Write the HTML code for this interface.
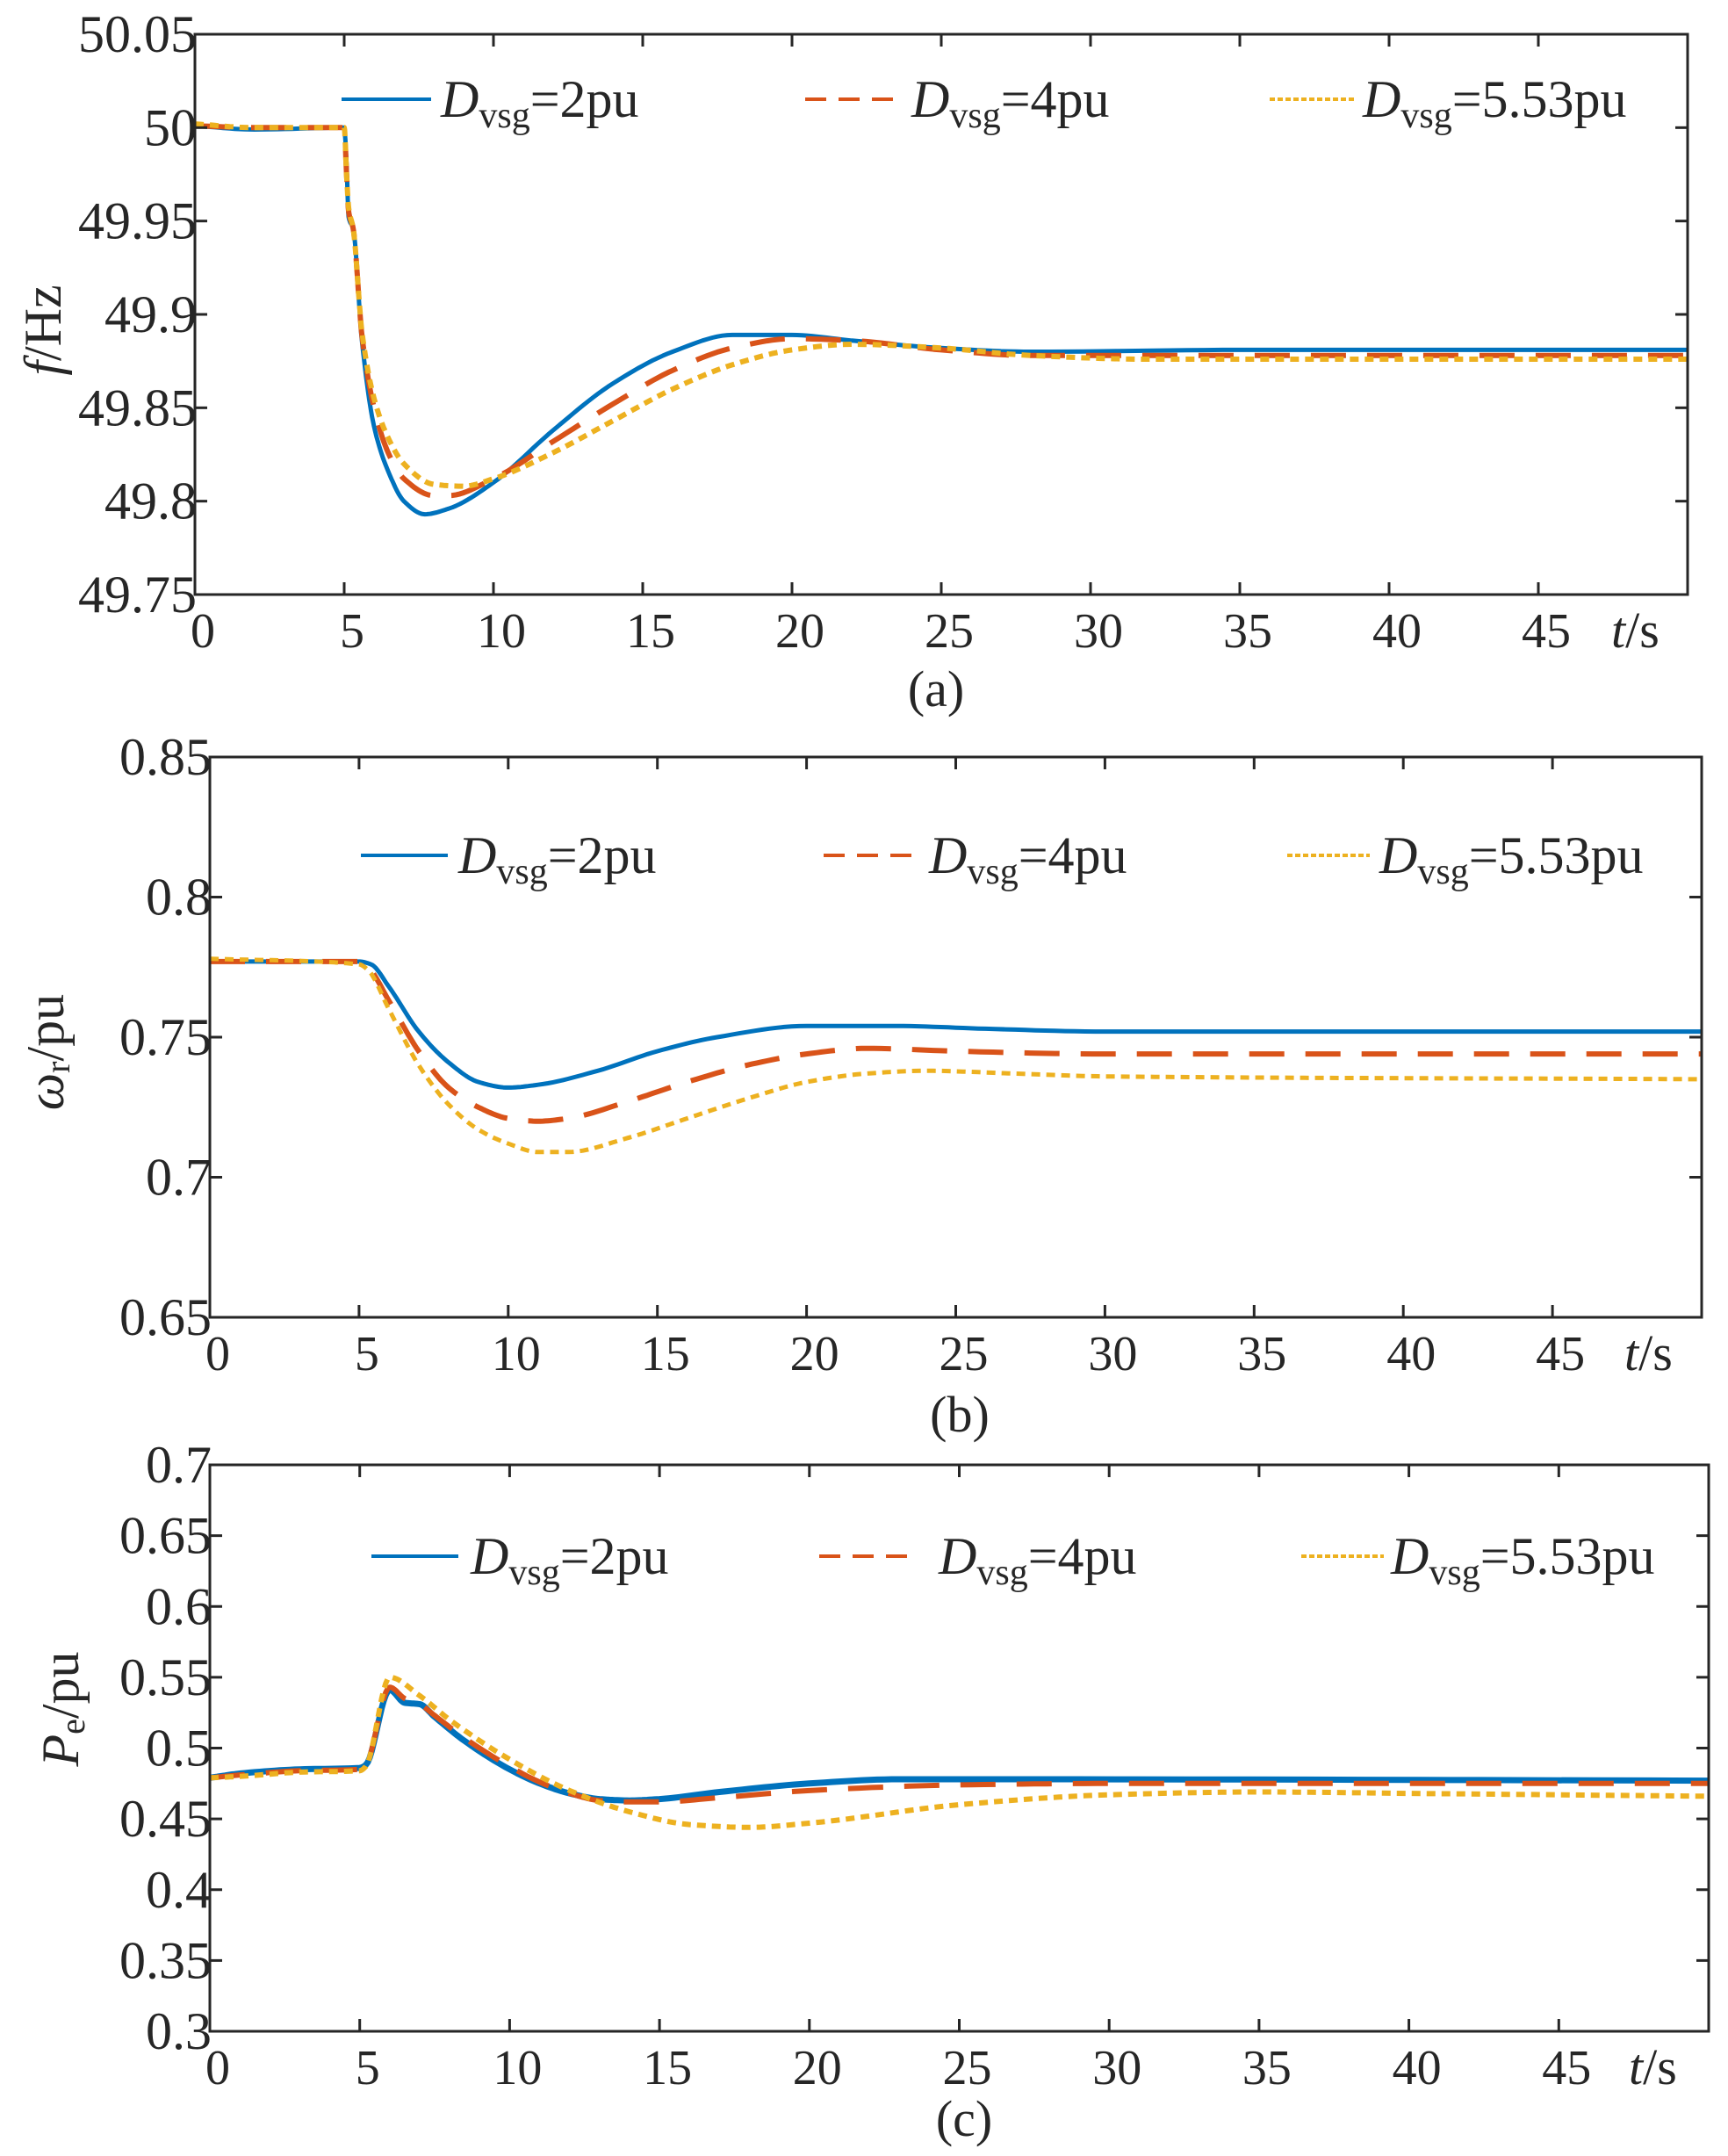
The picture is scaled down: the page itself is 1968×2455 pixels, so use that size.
<!DOCTYPE html>
<html><head><meta charset="utf-8">
<style>
html,body{margin:0;padding:0;background:#fff;}
svg{display:block;}
text{font-family:"Liberation Serif","DejaVu Serif",serif;fill:#262626;}
</style></head>
<body>
<svg id="s" width="1968" height="2455" viewBox="0 0 1968 2455" xmlns="http://www.w3.org/2000/svg">
<rect width="1968" height="2455" fill="#fff"/>
<text x="55" y="376" font-size="60" text-anchor="middle" dominant-baseline="middle" transform="rotate(-90 55 376)"><tspan font-style="italic">f</tspan>/Hz</text>
<text x="58" y="1198" font-size="60" text-anchor="middle" dominant-baseline="middle" transform="rotate(-90 58 1198)"><tspan font-style="italic">ω</tspan><tspan font-size="40" dy="12">r</tspan><tspan dy="-12">/pu</tspan></text>
<text x="75" y="1946" font-size="60" text-anchor="middle" dominant-baseline="middle" transform="rotate(-90 75 1946)"><tspan font-style="italic">P</tspan><tspan font-size="40" dy="12">e</tspan><tspan dy="-12">/pu</tspan></text>
<text x="1066" y="804" font-size="58" text-anchor="middle">(a)</text>
<text x="1093" y="1630" font-size="58" text-anchor="middle">(b)</text>
<text x="1098" y="2432" font-size="58" text-anchor="middle">(c)</text>
</svg>
<script>
var S=document.getElementById('s'),NS='http://www.w3.org/2000/svg';
function el(n,a,t){var e=document.createElementNS(NS,n);for(var k in a)e.setAttribute(k,a[k]);if(t!==undefined)e.textContent=t;S.appendChild(e);return e;}
var C=['#0072BD','#D95319','#EDB120'];
var DASH=['none','40 24','10 7'];
function pchip(pts){var n=pts.length,h=[],d=[],m=[];
for(var i=0;i<n-1;i++){h[i]=pts[i+1][0]-pts[i][0];d[i]=(pts[i+1][1]-pts[i][1])/h[i];}
m[0]=d[0];m[n-1]=d[n-2];
for(i=1;i<n-1;i++){if(d[i-1]*d[i]<=0)m[i]=0;else{var w1=2*h[i]+h[i-1],w2=h[i]+2*h[i-1];m[i]=(w1+w2)/(w1/d[i-1]+w2/d[i]);}}
var o=[];for(i=0;i<n-1;i++){for(var k=0;k<12;k++){var t=k/12,t2=t*t,t3=t2*t;
var y=(2*t3-3*t2+1)*pts[i][1]+(t3-2*t2+t)*h[i]*m[i]+(-2*t3+3*t2)*pts[i+1][1]+(t3-t2)*h[i]*m[i+1];
o.push([pts[i][0]+t*h[i],y]);}}o.push(pts[n-1]);return o;}
function plot(P){
var L=P.l,R=P.r,T=P.t,B=P.b;
function X(v){return L+(R-L)*v/50;}function Y(v){return B-(B-T)*(v-P.y0)/(P.y1-P.y0);}
P.series.forEach(function(d,i){var pts=pchip(d).map(function(p){return [X(p[0]),Y(p[1])];});
el('polyline',{points:pts.map(function(p){return p[0].toFixed(1)+','+p[1].toFixed(1);}).join(' '),fill:'none',stroke:C[i],'stroke-width':P.w[i],'stroke-dasharray':DASH[i],'stroke-linejoin':'round'});});
el('rect',{x:L,y:T,width:R-L,height:B-T,fill:'none',stroke:'#262626','stroke-width':3});
for(var v=0;v<=45;v+=5){var x=X(v);
if(v>0){el('line',{x1:x,y1:B,x2:x,y2:B-14,stroke:'#262626','stroke-width':3});el('line',{x1:x,y1:T,x2:x,y2:T+14,stroke:'#262626','stroke-width':3});}
el('text',{x:x+9,y:B+60,'font-size':56,'text-anchor':'middle'},String(v));}
el('text',{x:P.tx,y:B+60,'font-size':58},'').innerHTML='<tspan font-style="italic">t</tspan>/s';
P.yt.forEach(function(s){var v=parseFloat(s),y=Y(v);
if(y>T+2&&y<B-2){el('line',{x1:L,y1:y,x2:L+14,y2:y,stroke:'#262626','stroke-width':3});el('line',{x1:R,y1:y,x2:R-14,y2:y,stroke:'#262626','stroke-width':3});}
el('text',{x:L+2,y:y+20,'font-size':60,'text-anchor':'end'},s);});
var lab=['2pu','4pu','5.53pu'];
P.leg.forEach(function(g,i){el('line',{x1:g[0],y1:P.ly,x2:g[1],y2:P.ly,stroke:C[i],'stroke-width':4,'stroke-dasharray':i==1?'24 14':(i==2?'6 3':'none')});
el('text',{x:g[2],y:P.ly+20,'font-size':60},'').innerHTML='<tspan font-style="italic">D</tspan><tspan font-size="42" dy="12">vsg</tspan><tspan dy="-12">='+lab[i]+'</tspan>';});
}
plot({l:222,r:1922,t:39,b:677,y0:49.75,y1:50.05,tx:1835,ly:113,w:[5,6,6],
yt:['50.05','50','49.95','49.9','49.85','49.8','49.75'],
leg:[[389,491,502],[917,1022,1038],[1446,1545,1552]],
series:[
[[0,50.001],[2,49.999],[5,50.0],[5.08,49.98],[5.15,49.952],[5.3,49.946],[5.6,49.885],[6,49.84],[6.5,49.815],[7,49.800],[7.7,49.793],[8.5,49.796],[10,49.81],[12,49.838],[14,49.863],[16,49.880],[18,49.889],[20,49.889],[22,49.886],[25,49.882],[28,49.880],[35,49.881],[50,49.881]],
[[0,50.001],[2,50.0],[5,50.0],[5.08,49.975],[5.15,49.955],[5.3,49.946],[5.6,49.888],[6,49.85],[6.5,49.825],[7,49.812],[8,49.803],[8.5,49.803],[10,49.812],[12,49.832],[14,49.852],[16,49.870],[18,49.882],[20,49.887],[22,49.886],[25,49.881],[28,49.878],[35,49.878],[50,49.878]],
[[0,50.002],[2,50.0],[5,50.0],[5.08,49.975],[5.15,49.957],[5.3,49.946],[5.6,49.89],[6,49.855],[6.5,49.833],[7,49.82],[8,49.809],[9,49.808],[10,49.812],[12,49.826],[14,49.843],[16,49.860],[18,49.873],[20,49.881],[22,49.884],[25,49.882],[28,49.878],[32,49.876],[50,49.876]]]});
plot({l:239,r:1938,t:862,b:1500,y0:0.65,y1:0.85,tx:1850,ly:974,w:[5,6,5],
yt:['0.85','0.8','0.75','0.7','0.65'],
leg:[[411,510,522],[938,1043,1058],[1466,1560,1571]],
series:[
[[0,0.777],[5,0.777],[5.4,0.776],[6,0.768],[7,0.752],[8,0.741],[9,0.734],[10,0.732],[11,0.733],[13,0.738],[15,0.745],[17,0.750],[20,0.754],[23,0.754],[26,0.753],[30,0.752],[50,0.752]],
[[0,0.777],[5,0.777],[5.3,0.775],[6,0.763],[7,0.745],[8,0.732],[9,0.725],[10,0.721],[11,0.720],[12,0.721],[14,0.727],[16,0.734],[18,0.740],[20,0.744],[22,0.746],[25,0.745],[30,0.744],[50,0.744]],
[[0,0.778],[5,0.776],[5.3,0.774],[6,0.760],[7,0.740],[8,0.726],[9,0.717],[10,0.712],[11,0.709],[12,0.709],[14,0.714],[16,0.721],[18,0.728],[20,0.734],[22,0.737],[24,0.738],[27,0.737],[30,0.736],[50,0.735]]]});
plot({l:239,r:1946,t:1668,b:2313,y0:0.3,y1:0.7,tx:1855,ly:1772,w:[7,6,6],
yt:['0.7','0.65','0.6','0.55','0.5','0.45','0.4','0.35','0.3'],
leg:[[423,522,536],[933,1038,1069],[1482,1576,1584]],
series:[
[[0,0.479],[1,0.482],[3,0.485],[5,0.486],[5.2,0.488],[6,0.541],[6.5,0.532],[7,0.531],[7.5,0.522],[8.5,0.505],[10,0.485],[11,0.475],[12,0.468],[13,0.464],[14,0.463],[15,0.464],[17,0.469],[20,0.475],[23,0.478],[27,0.478],[50,0.477]],
[[0,0.479],[1,0.481],[3,0.484],[5,0.485],[5.2,0.488],[6,0.543],[6.5,0.535],[7,0.531],[7.5,0.523],[8.5,0.507],[10,0.487],[11,0.476],[12,0.468],[13,0.463],[14,0.462],[15,0.462],[17,0.465],[20,0.470],[25,0.474],[30,0.475],[50,0.475]],
[[0,0.479],[1,0.480],[3,0.483],[5,0.484],[5.2,0.487],[6,0.550],[7,0.537],[8,0.520],[10,0.492],[12,0.470],[14,0.455],[16,0.446],[18,0.444],[20,0.447],[25,0.460],[30,0.467],[35,0.469],[40,0.468],[50,0.466]]]});
</script>
</body></html>
